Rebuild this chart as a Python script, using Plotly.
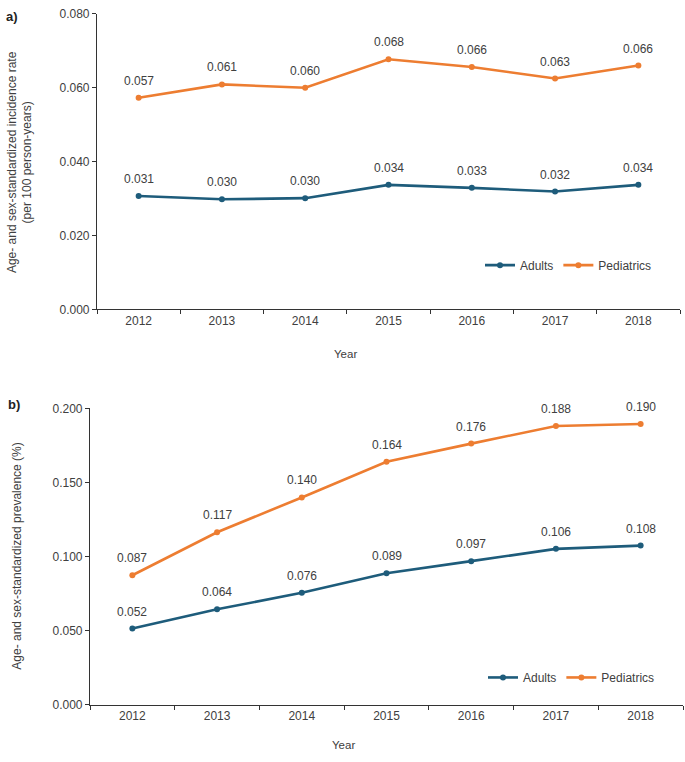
import plotly.graph_objects as go

years = ["2012", "2013", "2014", "2015", "2016", "2017", "2018"]

# Panel a) incidence rate
inc_adults = [0.0307, 0.0298, 0.0301, 0.0337, 0.0329, 0.0319, 0.0337]
inc_peds = [0.0573, 0.0609, 0.0600, 0.0677, 0.0656, 0.0625, 0.0660]
inc_adults_lbl = ["0.031", "0.030", "0.030", "0.034", "0.033", "0.032", "0.034"]
inc_peds_lbl = ["0.057", "0.061", "0.060", "0.068", "0.066", "0.063", "0.066"]

# Panel b) prevalence
prev_adults = [0.0515, 0.0645, 0.0757, 0.0888, 0.0970, 0.1053, 0.1075]
prev_peds = [0.0875, 0.1165, 0.1400, 0.1640, 0.1763, 0.1882, 0.1895]
prev_adults_lbl = ["0.052", "0.064", "0.076", "0.089", "0.097", "0.106", "0.108"]
prev_peds_lbl = ["0.087", "0.117", "0.140", "0.164", "0.176", "0.188", "0.190"]

W, H = 685, 762
C_AD = "#1E5C7B"
C_PE = "#ED7D31"
TXT = "#404040"
FONT = "Liberation Sans, Arial, sans-serif"

def px(x):
    return x / W

def py(y):
    return 1 - y / H

fig = go.Figure()

def add_series(y, name, color, xa, ya, legend, showlegend=True):
    fig.add_trace(go.Scatter(
        x=years, y=y, name=name, mode="lines+markers",
        line=dict(color=color, width=2.6),
        marker=dict(color=color, size=6),
        xaxis=xa, yaxis=ya, legend=legend, showlegend=showlegend,
        hoverinfo="skip",
    ))

add_series(inc_adults, "Adults", C_AD, "x", "y", "legend")
add_series(inc_peds, "Pediatrics", C_PE, "x", "y", "legend")
add_series(prev_adults, "Adults", C_AD, "x2", "y2", "legend2")
add_series(prev_peds, "Pediatrics", C_PE, "x2", "y2", "legend2")

anns = []
for ys, lbls, xr, yr in [
    (inc_adults, inc_adults_lbl, "x", "y"),
    (inc_peds, inc_peds_lbl, "x", "y"),
    (prev_adults, prev_adults_lbl, "x2", "y2"),
    (prev_peds, prev_peds_lbl, "x2", "y2"),
]:
    for i, (yv, t) in enumerate(zip(ys, lbls)):
        anns.append(dict(x=i, y=yv, xref=xr, yref=yr, text=t, showarrow=False,
                         yshift=17, font=dict(size=12, color=TXT, family=FONT)))

# panel letters
anns.append(dict(x=px(4), y=py(10), xref="paper", yref="paper", text="<b>a)</b>",
                 showarrow=False, xanchor="left", yanchor="middle",
                 font=dict(size=13, color="#222", family=FONT)))
anns.append(dict(x=px(6), y=py(405), xref="paper", yref="paper", text="<b>b)</b>",
                 showarrow=False, xanchor="left", yanchor="middle",
                 font=dict(size=13, color="#222", family=FONT)))
# axis titles
anns.append(dict(x=px(20), y=py(158), xref="paper", yref="paper",
                 text="Age- and sex-standardized incidence rate<br>(per 100 person-years)",
                 showarrow=False, textangle=-90, xanchor="center", yanchor="middle",
                 font=dict(size=12, color=TXT, family=FONT)))
anns.append(dict(x=px(17), y=py(560), xref="paper", yref="paper",
                 text="Age- and sex-standardized prevalence (%)",
                 showarrow=False, textangle=-90, xanchor="center", yanchor="middle",
                 font=dict(size=12, color=TXT, family=FONT)))
anns.append(dict(x=px(345), y=py(353), xref="paper", yref="paper", text="Year",
                 showarrow=False, xanchor="center", yanchor="middle",
                 font=dict(size=11.5, color=TXT, family=FONT)))
anns.append(dict(x=px(343), y=py(752), xref="paper", yref="paper", text="Year",
                 showarrow=False, xanchor="center", yanchor="middle",
                 font=dict(size=11.5, color=TXT, family=FONT)))

axis_common = dict(showgrid=False, zeroline=False, showline=True, linecolor="#333",
                   linewidth=1.2, ticks="outside", ticklen=4, tickcolor="#333",
                   tickfont=dict(size=12, color=TXT, family=FONT))

fig.update_layout(
    width=W, height=H, margin=dict(l=0, r=0, t=0, b=0),
    paper_bgcolor="white", plot_bgcolor="white",
    annotations=anns,
    xaxis=dict(domain=[px(97), px(680)], anchor="y", type="category",
               range=[-0.5, len(years) - 0.5], tickangle=0,
               tickson="boundaries", **axis_common),
    yaxis=dict(domain=[py(308), py(7)], anchor="x", range=[0, 0.08], dtick=0.02,
               tickformat=".3f", **axis_common),
    xaxis2=dict(domain=[px(90), px(683)], anchor="y2", type="category",
                range=[-0.5, len(years) - 0.5], tickangle=0,
                tickson="boundaries", **axis_common),
    yaxis2=dict(domain=[py(711), py(409)], anchor="x2", range=[0, 0.2], dtick=0.05,
                tickformat=".3f", **axis_common),
    legend=dict(orientation="h", x=px(480), y=py(263), xanchor="left", yanchor="middle",
                font=dict(size=12, color=TXT, family=FONT), bgcolor="rgba(0,0,0,0)",
                itemwidth=30, tracegroupgap=0),
    legend2=dict(orientation="h", x=px(483), y=py(683), xanchor="left", yanchor="middle",
                 font=dict(size=12, color=TXT, family=FONT), bgcolor="rgba(0,0,0,0)",
                 itemwidth=30, tracegroupgap=0),
)

fig.write_html(
    "out.html",
    config={"displayModeBar": False},
    post_script="document.body.style.margin='0';document.body.style.overflow='hidden';",
)
